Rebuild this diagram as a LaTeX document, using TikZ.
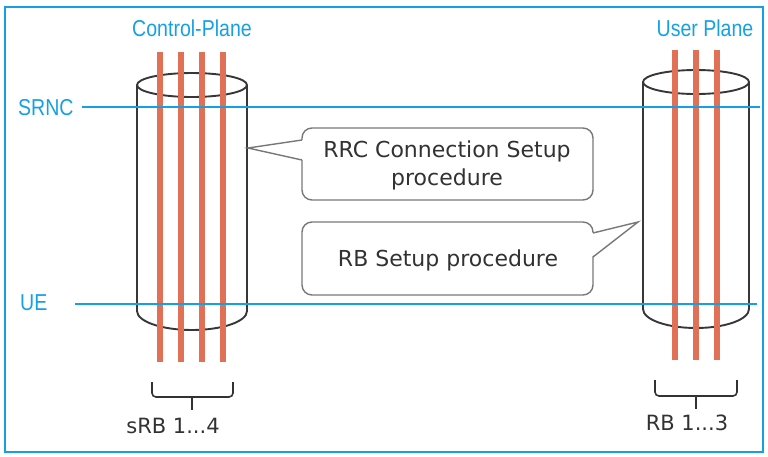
\documentclass[tikz,border=0pt]{standalone}
\usepackage{fontspec}
\newfontfamily\bluefont[FakeStretch=0.85]{Liberation Sans}
\newfontfamily\greyfont{DejaVu Sans}
\definecolor{planeblue}{RGB}{22,160,228}
\definecolor{barred}{RGB}{224,112,86}
\definecolor{cylgrey}{RGB}{55,55,55}
\definecolor{txtgrey}{RGB}{50,50,50}
\definecolor{calgrey}{RGB}{120,120,120}
\tikzset{
  bluelabel/.style={inner sep=0pt, text=planeblue, font=\bluefont\fontsize{23}{26}\selectfont},
  greylabel/.style={inner sep=0pt, text=txtgrey, font=\greyfont\fontsize{21}{28}\selectfont, align=center},
  layerline/.style={draw=planeblue, line width=2pt},
  cyl/.style={draw=cylgrey, line width=1.9pt},
  bar/.style={draw=barred, line width=6.5pt},
  callout/.style={draw=calgrey, line width=1.4pt, fill=white},
  brace/.style={draw=txtgrey, line width=1.6pt, rounded corners=4pt}
}
\begin{document}
\begin{tikzpicture}[x=1pt, y=-1pt]
\useasboundingbox (0,0) rectangle (768,456);
% frame
\draw[planeblue, line width=2.5pt] (5,7) rectangle (763,452);

% titles
\node[bluelabel] (cp) at (192,28) {Control-Plane};
\node[bluelabel] (up) at (705,28) {User Plane};

% left cylinder
\draw[cyl] (137,85) -- (137,311) arc[start angle=180, end angle=0, x radius=55, y radius=19] -- (247,85);
\draw[cyl] (192,85) ellipse[x radius=55, y radius=12];
\foreach \x in {160,181,202,223} \draw[bar] (\x,52) -- (\x,362);

% right cylinder
\draw[cyl] (643,82) -- (643,309) arc[start angle=180, end angle=0, x radius=53, y radius=19] -- (749,82);
\draw[cyl] (696,82) ellipse[x radius=53, y radius=12];
\foreach \x in {675,696,717} \draw[bar] (\x,50) -- (\x,360);

% layer lines
\node[bluelabel, anchor=west] (srnc) at (18,108) {SRNC};
\node[bluelabel, anchor=west] (ue) at (20,303) {UE};
\coordinate (srncend) at (760,107);
\coordinate (ueend) at (757,304);
\draw[layerline] (srnc.east |- srncend) ++(8,0) -- (srncend);
\draw[layerline] (ue.east |- ueend) ++(27,0) -- (ueend);

% callout 1
\draw[callout, rounded corners=10pt] (302,128) rectangle (593,200);
\fill[white] (303.5,140) -- (248,148) -- (303.5,160) -- cycle;
\draw[draw=calgrey, line width=1.4pt] (302,140) -- (248,148) -- (302,160);
\node[greylabel, font=\greyfont\fontsize{22}{28}\selectfont] (rrc) at (447,165) {RRC Connection Setup\\procedure};

% callout 2
\draw[callout, rounded corners=10pt] (302,222) rectangle (593,295);
\fill[white] (591.5,233) -- (638,222) -- (591.5,257) -- cycle;
\draw[draw=calgrey, line width=1.4pt] (593,233) -- (638,222) -- (593,257);
\node[greylabel, font=\greyfont\fontsize{22}{28}\selectfont] (rbs) at (448,260) {RB Setup procedure};

% braces
\draw[brace] (152,382) -- (152,397) -- (233,397) -- (233,382);
\draw[txtgrey, line width=1.6pt] (192,397) -- (192,410);
\node[greylabel] (srb) at (173,426) {sRB 1...4};

\draw[brace] (655,380) -- (655,396) -- (737,396) -- (737,380);
\draw[txtgrey, line width=1.6pt] (696,396) -- (696,409);
\node[greylabel] (rb) at (687,423) {RB 1...3};
\end{tikzpicture}
\end{document}
